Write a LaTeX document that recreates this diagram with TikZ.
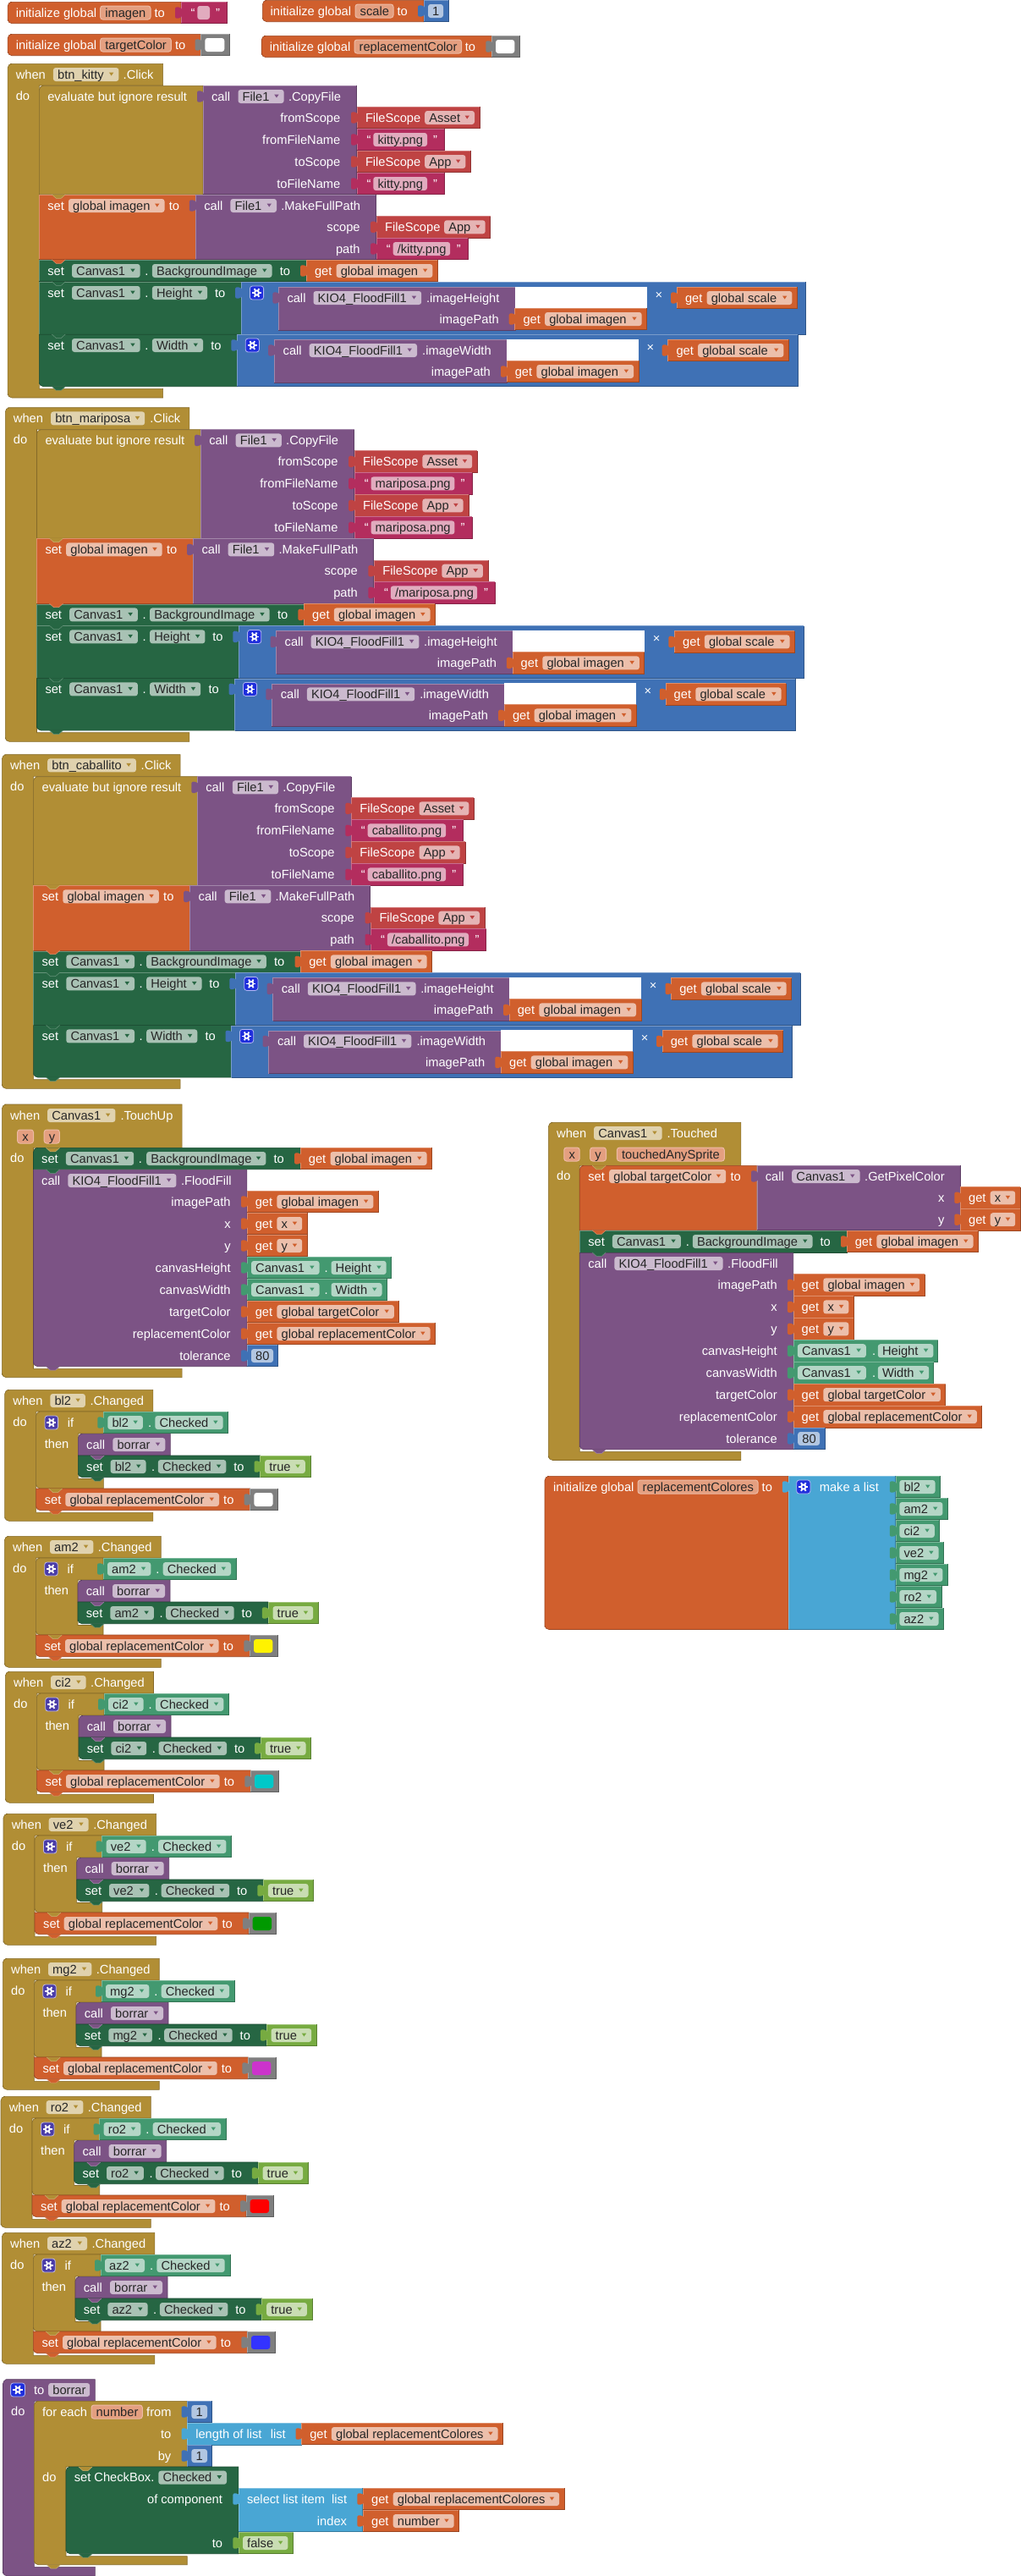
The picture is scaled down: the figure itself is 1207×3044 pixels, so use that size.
\documentclass[tikz,border=0pt]{standalone}
\usepackage{fontspec}
\setmainfont{Liberation Sans}
\definecolor{cO}{HTML}{D05F2D}
\definecolor{cG}{HTML}{B18E35}
\definecolor{cP}{HTML}{7C5385}
\definecolor{cD}{HTML}{266643}
\definecolor{cL}{HTML}{439970}
\definecolor{cB}{HTML}{3F71B5}
\definecolor{cA}{HTML}{49A6D4}
\definecolor{cM}{HTML}{B32D5E}
\definecolor{cR}{HTML}{BF4343}
\definecolor{cT}{HTML}{77AB41}
\definecolor{cY}{HTML}{7F7F7F}
\definecolor{cI}{HTML}{4A3CA8}
\definecolor{cJ}{HTML}{1F2EDC}
\definecolor{sCy}{HTML}{00C8C8}
\definecolor{sGr}{HTML}{009900}
\definecolor{sMg}{HTML}{CC33CC}
\definecolor{sRd}{HTML}{FF0000}
\definecolor{sBl}{HTML}{3333FF}
\definecolor{vF}{HTML}{E49F80}
\definecolor{vE}{HTML}{EDBBA5}
\newcounter{nd}
\tikzset{
  bk/.style={fill=#1,draw=#1!75!black,line width=.6pt},
  txt/.style={inner sep=0pt,font=\fontsize{14.67}{17}\selectfont},
  wt/.style={txt,text=white},
  dk/.style={txt,text=black!85}
}
\newcommand\Tw[3]{\stepcounter{nd}\node[wt,anchor=base west] (w\arabic{nd}) at (#1,#2+5) {#3};}
\newcommand\Tr[3]{\stepcounter{nd}\node[wt,anchor=base east] (w\arabic{nd}) at (#1,#2+5) {#3};}
\newcommand\Tc[3]{\stepcounter{nd}\node[wt,anchor=base] (w\arabic{nd}) at (#1,#2+5) {#3};}
\newcommand\Td[3]{\stepcounter{nd}\node[dk,anchor=base west] (w\arabic{nd}) at (#1,#2+5) {#3};}
\newcommand\Bk[5]{%
  \fill[#1] (#2,#3) rectangle (#4,#5);
  \draw[#1!70!white,line width=.6pt] (#2,#5) -- (#2,#3) -- (#4,#3);
  \draw[#1!75!black,line width=.6pt] (#4,#3) -- (#4,#5) -- (#2,#5);}
\newcommand\BkR[7]{%
  \draw[bk=#1] (#2,#3+8) [rounded corners=#6pt] -- (#2,#3) -- (#2+8,#3) [sharp corners] -- (#4,#3) -- (#4,#5) -- (#2+8,#5) [rounded corners=#7pt] -- (#2,#5) -- (#2,#5-8) [sharp corners] -- cycle;}
\newcommand\HatB[8]{%
  \draw[bk=#1] (#2,#3+8) [rounded corners=5pt] -- (#2,#3) -- (#2+8,#3) [sharp corners] -- (#4,#3) -- (#4,#5) -- (#6,#5) -- (#6,#7) -- (#4,#7) -- (#4,#8) -- (#2+8,#8) [rounded corners=5pt] -- (#2,#8) -- (#2,#8-8) [sharp corners] -- cycle;}
\newcommand\Tb[3]{\fill[#1,rounded corners=1pt] (#2+1,#3-5) -- (#2-4,#3-7) -- (#2-7,#3-6) -- (#2-7,#3+6) -- (#2-4,#3+7) -- (#2+1,#3+5) -- cycle;}
\newcommand\Nt[3]{\draw[fill=#1,draw=#1!70!white,line width=.5pt] (#2+15,#3) -- (#2+20,#3+4.5) -- (#2+26,#3+4.5) -- (#2+31,#3);}
\newcommand\Pb[5]{\fill[#1!40!white,rounded corners=3pt] (#2,#4-8) rectangle (#3,#4+8); \Td{#2+5}{#4}{#5}}
\newcommand\Pa[5]{\Pb{#1}{#2}{#3}{#4}{#5}\fill[#1] (#3-11.5,#4-2.5) -- (#3-6,#4-2.5) -- (#3-8.75,#4+1.5) -- cycle;}
\newcommand\Pv[4]{\draw[fill=vF,draw=vE,line width=1pt,rounded corners=3pt] (#1,#3-8) rectangle (#2,#3+8); \Td{#1+5.5}{#3}{#4}}
\newcommand\Gear[4]{%
  \draw[fill=#1,draw=#1!35!white,line width=.8pt,rounded corners=3pt] (#2,#4-8) rectangle (#3,#4+8);
  \fill[white] ({(#2+#3)/2},#4) circle[radius=3.6pt];
  \foreach \aG in {0,60,...,300}{\draw[white,line width=1.8pt] ({(#2+#3)/2},#4) ++(\aG:3pt) -- ++(\aG:2.6pt);}
  \fill[#1] ({(#2+#3)/2},#4) circle[radius=1.7pt];}
\newcommand\GetB[4]{\Bk{cO}{#1}{#3-12.7}{#2}{#3+12.7}\Tb{cO}{#1}{#3}\Tw{#1+9.6}{#3}{get}\Pa{cO}{#1+35.4}{#2-5.8}{#3}{#4}}
\newcommand\Fs[6]{\Bk{cR}{#1}{#3-12.7}{#2}{#3+12.7}\Tb{cR}{#1}{#3}\Tw{#1+9.8}{#3}{FileScope}\Pa{cR}{#4}{#5}{#3}{#6}}
\newcommand\StrB[7]{\Bk{cM}{#1}{#3-12.7}{#2}{#3+12.7}\Tb{cM}{#1}{#3}\Tw{#1+11.4}{#3}{“}\Pb{cM}{#4}{#5}{#3}{#7}\Tw{#6}{#3}{”}}
\newcommand\ColB[4]{\Bk{cY}{#1}{#3-12.7}{#2}{#3+12.7}\Tb{cY}{#1}{#3}\fill[#4,rounded corners=3pt] (#1+4.7,#3-8) rectangle (#2-5.7,#3+8);}
\newcommand\NumB[6]{\Bk{cB}{#1}{#3-12.7}{#2}{#3+12.7}\Tb{cB}{#1}{#3}\Pb{cB}{#4}{#5}{#3}{#6}}
\newcommand\LG[5]{\Bk{cL}{#1}{#3-12.7}{#2}{#3+12.7}\Tb{cL}{#1}{#3}\Pa{cL}{#1+4.5}{#4}{#3}{#5}}
% click handler, in the coordinates of the first one
\newcommand\ClickBlk[7]{%
\begin{scope}[shift={(#1,#2)}]
\HatB{cG}{9.1}{75.3}{#6}{101}{46.3}{459.3}{470}
\Tw{18.6}{88}{when}\Pa{cG}{62.9}{#4}{88}{#3}\Tw{#5}{88}{.Click}
\Tw{18.6}{113.3}{do}
\BkR{cG}{46.3}{101.3}{240}{229.7}{5}{0.01}
\Tw{56.1}{114}{evaluate but ignore result}
\Bk{cP}{240}{101.3}{421.5}{229.7}\Tb{cP}{240}{114}
\Tw{249.9}{114}{call}\Pa{cP}{281.5}{335.7}{114}{File1}\Tw{340.8}{114}{.CopyFile}
\Tr{402.5}{139}{fromScope}\Tr{402.5}{165}{fromFileName}\Tr{402.5}{191}{toScope}\Tr{402.5}{217}{toFileName}
\Fs{422}{567}{139}{502.2}{561}{Asset}
\StrB{422}{\sB}{165}{441.3}{\sE}{\sQ}{#7.png}
\Fs{422}{556.7}{191}{502.2}{550.4}{App}
\StrB{422}{\sB}{217}{441.3}{\sE}{\sQ}{#7.png}
\Bk{cO}{46.3}{230.3}{230.9}{306.7}
\Tw{56.1}{243}{set}\Pa{cO}{81}{194.5}{243}{global imagen}\Tw{199.7}{243}{to}
\Bk{cP}{230.9}{230.3}{444.4}{306.7}\Tb{cP}{230.9}{243}
\Tw{241.2}{243}{call}\Pa{cP}{272.4}{327}{243}{File1}\Tw{332.1}{243}{.MakeFullPath}
\Tr{425.8}{268.3}{scope}\Tr{425.8}{294}{path}
\Fs{445.2}{579.7}{268.3}{525.1}{573.7}{App}
\StrB{445.2}{\pB}{294}{464.6}{\pE}{\pQ}{/#7.png}
\Nt{cG}{46.3}{229.8}
\Bk{cD}{46.3}{307.7}{362.2}{332.7}
\Tw{56.1}{320}{set}\Pa{cD}{85}{165.7}{320}{Canvas1}\Tw{171.2}{320}{.}\Pa{cD}{179.9}{321.5}{320}{BackgroundImage}\Tw{330.6}{320}{to}
\GetB{362.2}{517.2}{320}{global imagen}
\Nt{cO}{46.3}{306.8}
\Bk{cD}{46.3}{333.3}{285.1}{395}
\Tw{56.1}{346}{set}\Pa{cD}{85}{165.7}{346}{Canvas1}\Tw{171.2}{346}{.}\Pa{cD}{179.9}{245.2}{346}{Height}\Tw{253.9}{346}{to}
\Bk{cB}{285.1}{333.3}{952.7}{395}\Tb{cB}{285.1}{346}
\Gear{cJ}{295.4}{311.6}{346}
\Bk{cP}{329.4}{339.3}{608.9}{390}\Tb{cP}{329.4}{352}
\Tw{339.3}{352}{call}\Pa{cP}{370.5}{498.2}{352}{KIO4\_FloodFill1}\Tw{503.8}{352}{.imageHeight}
\Tr{590}{377}{imagePath}
\fill[white] (608.9,339) rectangle (764.5,364.3);
\GetB{608.7}{764.5}{377}{global imagen}
\Tc{778.9}{348}{×}
\GetB{800.2}{942.2}{352}{global scale}
\Nt{cD}{46.3}{332.8}
\BkR{cD}{46.3}{395.2}{280.3}{456.7}{0.01}{5}
\Tw{56.1}{408}{set}\Pa{cD}{85}{165.7}{408}{Canvas1}\Tw{171.2}{408}{.}\Pa{cD}{179.9}{240}{408}{Width}\Tw{249.1}{408}{to}
\Bk{cB}{280.3}{395.4}{943}{456.7}\Tb{cB}{280.3}{408}
\Gear{cJ}{290.2}{306.4}{408}
\Bk{cP}{324.2}{401.7}{599}{452.3}\Tb{cP}{324.2}{414}
\Tw{334.5}{414}{call}\Pa{cP}{365.7}{493}{414}{KIO4\_FloodFill1}\Tw{499}{414}{.imageWidth}
\Tr{580.1}{439}{imagePath}
\fill[white] (599,401) rectangle (754.9,426.3);
\GetB{599}{754.9}{439}{global imagen}
\Tc{768.8}{410}{×}
\GetB{789.7}{932.2}{414}{global scale}
\Nt{cD}{46.3}{395}
\Nt{cD}{46.3}{456.7}
\end{scope}}
% checkbox handler, in the coordinates of the am2 one less the name's extra width
\newcommand\Chk[5]{%
\def\wE{#4}
\begin{scope}[shift={(#1,#2)}]
\HatB{cG}{5.3}{1815.3}{180.5+\wE}{1841}{42.3}{1960.3}{1970.3}
\Tw{15}{1828}{when}\Pa{cG}{59}{100.6+\wE}{1828}{#3}\Tw{106+\wE}{1828}{.Changed}
\Tw{15}{1853.3}{do}
\HatB{cG}{42.3}{1841}{122}{1867}{92}{1920.5}{1932}
\Gear{cI}{52.7}{68.3}{1854}
\Tw{79.3}{1854}{if}
\Bk{cL}{122}{1841}{269.4+\wE}{1866.7}\Tb{cL}{122}{1854}
\Pa{cL}{127}{168.6+\wE}{1854}{#3}\Tw{174.5+\wE}{1854}{.}\Pa{cL}{183+\wE}{263.3+\wE}{1854}{Checked}
\Tw{52.3}{1879}{then}
\BkR{cP}{92}{1867.3}{201}{1893}{5}{0.01}
\Tw{101.7}{1880}{call}\Pa{cP}{133}{195}{1880}{borrar}
\BkR{cD}{92}{1893}{307.2+\wE}{1918.7}{0.01}{5}
\Tw{101.7}{1906}{set}\Pa{cD}{130.3}{172.2+\wE}{1906}{#3}\Tw{178.6+\wE}{1906}{.}\Pa{cD}{186.5+\wE}{267+\wE}{1906}{Checked}\Tw{275.8+\wE}{1906}{to}
\Bk{cT}{307.2+\wE}{1893}{366.5+\wE}{1918.7}\Tb{cT}{307.2+\wE}{1906}
\Pa{cT}{312.8+\wE}{360.5+\wE}{1906}{true}
\Nt{cP}{92}{1893}
\Nt{cD}{92}{1918.7}
\BkR{cO}{42.3}{1932}{295.3}{1957.7}{0.01}{5}
\Tw{52.3}{1945}{set}\Pa{cO}{77}{258.7}{1945}{global replacementColor}\Tw{263.7}{1945}{to}
\ColB{295.3}{328}{1945}{#5}
\Nt{cG}{42.3}{1932}
\Nt{cO}{42.3}{1957.7}
\end{scope}}
\begin{document}
\begin{tikzpicture}[x=1pt,y=-1pt]
\useasboundingbox (0,0) rectangle (1207,3044);
\fill[white] (0,0) rectangle (1207,3044);
% initialisers
\BkR{cO}{9.1}{2.3}{214}{27.7}{5}{5}
\Tw{18.6}{15}{initialize global}\Pv{118.6}{178}{15}{imagen}\Tw{182.3}{15}{to}
\StrB{214}{268.5}{15}{233.3}{248}{255}{}
\BkR{cO}{310.4}{0.3}{501}{25.7}{5}{5}
\Tw{319.5}{13}{initialize global}\Pv{420}{465}{13}{scale}\Tw{469.3}{13}{to}
\NumB{501}{530}{13}{506}{524}{1}
\BkR{cO}{9.1}{40.3}{237.6}{65.7}{5}{5}
\Tw{18.6}{53}{initialize global}\Pv{118.6}{202.4}{53}{targetColor}\Tw{206.8}{53}{to}
\ColB{237.6}{271}{53}{white}
\BkR{cO}{309.2}{42.3}{581.3}{67.7}{5}{5}
\Tw{318.7}{55}{initialize global}\Pv{419}{545.6}{55}{replacementColor}\Tw{549.6}{55}{to}
\ColB{581.3}{614}{55}{white}
% click handlers
\def\sB{525.5}\def\sE{505}\def\sQ{512}\def\pB{552.8}\def\pE{532.2}\def\pQ{539.7}
\ClickBlk{0}{0}{btn\_kitty}{140.4}{145.5}{192.6}{kitty}
\def\sB{560.7}\def\sE{540.2}\def\sQ{547.3}\def\pB{588}\def\pE{567}\def\pQ{574.6}
\ClickBlk{-2.8}{406.4}{btn\_mariposa}{174}{180}{226.6}{mariposa}
\def\sB{554.3}\def\sE{533.8}\def\sQ{540.9}\def\pB{581.2}\def\pE{560.7}\def\pQ{568.2}
\ClickBlk{-6.7}{816.4}{btn\_caballito}{167.6}{173.2}{219.8}{caballito}
% Canvas1.TouchUp
\HatB{cG}{2.4}{1305}{215.1}{1356.3}{39.5}{1617.3}{1627.7}
\Tw{11.9}{1318}{when}\Pa{cG}{56.1}{136.4}{1318}{Canvas1}\Tw{142.3}{1318}{.TouchUp}
\Pv{20.6}{39.5}{1343}{x}\Pv{52.2}{70.4}{1343}{y}
\Tw{11.9}{1368}{do}
\BkR{cD}{39.5}{1356.3}{355.1}{1381.7}{5}{0.01}
\Tw{49}{1369}{set}\Pa{cD}{77.9}{158.2}{1369}{Canvas1}\Tw{163.7}{1369}{.}\Pa{cD}{173.2}{314.3}{1369}{BackgroundImage}\Tw{323.4}{1369}{to}
\GetB{355.1}{510.4}{1369}{global imagen}
\BkR{cP}{39.5}{1382.3}{291.8}{1614.7}{0.01}{5}
\Tw{49}{1395}{call}\Pa{cP}{80.3}{208.4}{1395}{KIO4\_FloodFill1}\Tw{213.9}{1395}{.FloodFill}
\Tr{272.8}{1420}{imagePath}\Tr{272.8}{1446}{x}\Tr{272.8}{1472}{y}\Tr{272.8}{1498}{canvasHeight}\Tr{272.8}{1524}{canvasWidth}\Tr{272.8}{1550}{targetColor}\Tr{272.8}{1576}{replacementColor}\Tr{272.8}{1602}{tolerance}
\GetB{292}{447.2}{1420}{global imagen}
\GetB{292}{363}{1446}{x}
\GetB{292}{363}{1472}{y}
\Bk{cL}{292}{1485.3}{462.6}{1510.7}\Tb{cL}{292}{1498}\Pa{cL}{297}{377.6}{1498}{Canvas1}\Tw{383.5}{1498}{.}\Pa{cL}{391.5}{456.7}{1498}{Height}
\Bk{cL}{292}{1511.3}{457.5}{1536.7}\Tb{cL}{292}{1524}\Pa{cL}{297}{377.6}{1524}{Canvas1}\Tw{383.5}{1524}{.}\Pa{cL}{391.5}{451.5}{1524}{Width}
\GetB{292}{471.7}{1550}{global targetColor}
\GetB{292}{514.4}{1576}{global replacementColor}
\NumB{292}{328.6}{1602}{297}{323}{80}
\Nt{cG}{39.5}{1356.3}
\Nt{cD}{39.5}{1381.8}
\Nt{cP}{39.5}{1614.7}
% checkbox handlers
\Chk{0.3}{-173}{bl2}{0}{white}
\Chk{0}{0}{am2}{9.7}{yellow}
\Chk{1}{160}{ci2}{0}{sCy}
\Chk{-1.3}{328}{ve2}{5.4}{sGr}
\Chk{-2}{499}{mg2}{9.7}{sMg}
\Chk{-4.3}{662}{ro2}{2}{sRd}
\Chk{-3}{823}{az2}{5.4}{sBl}
% Canvas1.Touched
\HatB{cG}{648.4}{1326.3}{875.9}{1377.3}{685.2}{1715.3}{1725.5}
\Tw{658}{1339}{when}\Pa{cG}{702.1}{782.7}{1339}{Canvas1}\Tw{788.3}{1339}{.Touched}
\Pv{666.8}{685.2}{1364}{x}\Pv{697.7}{716.5}{1364}{y}\Pv{729.4}{856.3}{1364}{touchedAnySprite}
\Tw{658}{1389}{do}
\BkR{cO}{685.2}{1377.3}{894.3}{1453.7}{5}{0.01}
\Tw{695.1}{1390}{set}\Pa{cO}{720.2}{858.2}{1390}{global targetColor}\Tw{863.3}{1390}{to}
\Bk{cP}{895}{1377.3}{1135}{1453.7}\Tb{cP}{895}{1390}
\Tw{904.6}{1390}{call}\Pa{cP}{936.2}{1016.5}{1390}{Canvas1}\Tw{1022}{1390}{.GetPixelColor}
\Tr{1116.6}{1415.3}{x}\Tr{1116.6}{1441.4}{y}
\GetB{1135.3}{1206}{1415.3}{x}
\GetB{1135.3}{1206}{1441.2}{y}
\Nt{cG}{685.2}{1377.3}
\Bk{cD}{685.2}{1454.5}{1001}{1479.8}
\Tw{695.1}{1467}{set}\Pa{cD}{723.9}{804.8}{1467}{Canvas1}\Tw{810.7}{1467}{.}\Pa{cD}{818.8}{960.5}{1467}{BackgroundImage}\Tw{969.3}{1467}{to}
\GetB{1001}{1156.3}{1467}{global imagen}
\Nt{cO}{685.2}{1453.8}
\BkR{cP}{685.2}{1480.6}{937.7}{1712.9}{0.01}{5}
\Tw{695.1}{1493}{call}\Pa{cP}{726.4}{854.5}{1493}{KIO4\_FloodFill1}\Tw{860}{1493}{.FloodFill}
\Tr{918.9}{1518.3}{imagePath}\Tr{918.9}{1544.4}{x}\Tr{918.9}{1570.4}{y}\Tr{918.9}{1596.2}{canvasHeight}\Tr{918.9}{1622.2}{canvasWidth}\Tr{918.9}{1648.2}{targetColor}\Tr{918.9}{1674.1}{replacementColor}\Tr{918.9}{1700}{tolerance}
\GetB{937.9}{1093}{1518.3}{global imagen}
\GetB{937.9}{1009.1}{1544.4}{x}
\GetB{937.9}{1009.1}{1570.4}{y}
\Bk{cL}{937.9}{1583.5}{1108.5}{1608.9}\Tb{cL}{937.9}{1596.2}\Pa{cL}{942.8}{1023.8}{1596.2}{Canvas1}\Tw{1030.8}{1596.2}{.}\Pa{cL}{1037.8}{1103.3}{1596.2}{Height}
\Bk{cL}{937.9}{1609.5}{1103.7}{1634.9}\Tb{cL}{937.9}{1622.2}\Pa{cL}{942.8}{1023.8}{1622.2}{Canvas1}\Tw{1030.8}{1622.2}{.}\Pa{cL}{1037.8}{1098.2}{1622.2}{Width}
\GetB{937.9}{1117.7}{1648.2}{global targetColor}
\GetB{937.9}{1160.7}{1674.1}{global replacementColor}
\NumB{937.9}{975.2}{1700}{943.2}{969}{80}
\Nt{cD}{685.2}{1479.9}
\Nt{cP}{685.2}{1712.9}
% replacementColores list
\BkR{cO}{644}{1744.3}{931.8}{1925.5}{5}{5}
\Tw{653.9}{1757}{initialize global}\Pv{754}{896.1}{1757}{replacementColores}\Tw{900.5}{1757}{to}
\Bk{cA}{931.8}{1744.3}{1058}{1925.5}\Tb{cA}{931.8}{1757}
\Gear{cJ}{941.7}{957.9}{1757}
\Tw{968.6}{1757}{make a list}
\LG{1058.8}{1111}{1757}{1105.5}{bl2}
\LG{1058.8}{1120.2}{1783}{1114.4}{am2}
\LG{1058.8}{1110.3}{1809}{1104.8}{ci2}
\LG{1058.8}{1115.1}{1835}{1109.6}{ve2}
\LG{1058.8}{1120.2}{1861}{1114.4}{mg2}
\LG{1058.8}{1112.9}{1887}{1107}{ro2}
\LG{1058.8}{1115.1}{1913}{1109.6}{az2}
% borrar procedure
\HatB{cP}{3.5}{2811.7}{112.3}{2837.3}{40.3}{3033.3}{3044}
\Gear{cJ}{12.6}{29.5}{2824}
\Tw{39.9}{2824}{to}\Pb{cP}{57.2}{106.2}{2824}{borrar}
\Tw{13}{2849}{do}
\HatB{cG}{40.3}{2837.3}{221.2}{2915}{78}{3020.7}{3030.7}
\Tw{49.9}{2850}{for each}\Pv{108}{168.3}{2850}{number}\Tw{173}{2850}{from}
\NumB{221.6}{250.2}{2850}{226.4}{245}{1}
\Tr{202.5}{2876}{to}
\Bk{cA}{221.6}{2863.3}{356.5}{2889}\Tb{cA}{221.6}{2876}
\Tw{231.1}{2876}{length of list}\Tw{319.6}{2876}{list}
\GetB{356.5}{594.5}{2876}{global replacementColores}
\Tr{202.5}{2902}{by}
\NumB{221.6}{250.2}{2902}{226.4}{245}{1}
\Tw{49.9}{2927}{do}
\BkR{cD}{78}{2915}{281.9}{3017.7}{5}{5}
\Tw{87.6}{2927.7}{set CheckBox.}\Pa{cD}{187.3}{268}{2927.7}{Checked}
\Tr{263.2}{2953}{of component}\Tr{263.2}{3005}{to}
\Bk{cA}{282.3}{2940.3}{428.4}{2991.7}\Tb{cA}{282.3}{2953}
\Tw{291.8}{2953}{select list item}\Tw{392}{2953}{list}\Tr{410.2}{2979}{index}
\GetB{429.3}{667}{2953}{global replacementColores}
\GetB{429.3}{542.5}{2979}{number}
\Bk{cT}{282.3}{2992.7}{346.5}{3017.7}\Tb{cT}{282.3}{3005}\Pa{cT}{287}{340.4}{3005}{false}
\Nt{cG}{78}{2915}
\Nt{cD}{78}{3017.7}
\Nt{cG}{40.3}{3030.7}
\end{tikzpicture}
\end{document}
